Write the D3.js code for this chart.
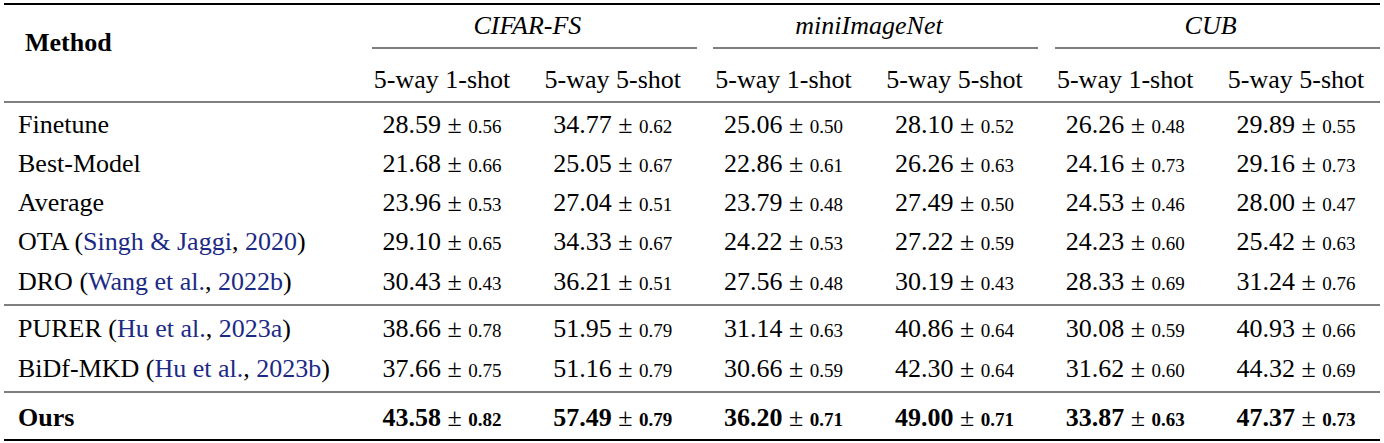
<!DOCTYPE html>
<html><head><meta charset="utf-8">
<script src="https://cdn.jsdelivr.net/npm/d3@7"></script>
<style>body{margin:0;background:#fff}</style>
</head><body><svg id="c" width="1384" height="443"></svg>
<script>
const datasets = ["CIFAR-FS", "miniImageNet", "CUB"];
const settings = ["5-way 1-shot", "5-way 5-shot"];
const methods = ["Finetune", "Best-Model", "Average", "OTA", "DRO", "PURER", "BiDf-MKD", "Ours"];
const citations = ["", "", "", "Singh & Jaggi, 2020", "Wang et al., 2022b", "Hu et al., 2023a", "Hu et al., 2023b", ""];
const means = [
  [28.59, 34.77, 25.06, 28.10, 26.26, 29.89],
  [21.68, 25.05, 22.86, 26.26, 24.16, 29.16],
  [23.96, 27.04, 23.79, 27.49, 24.53, 28.00],
  [29.10, 34.33, 24.22, 27.22, 24.23, 25.42],
  [30.43, 36.21, 27.56, 30.19, 28.33, 31.24],
  [38.66, 51.95, 31.14, 40.86, 30.08, 40.93],
  [37.66, 51.16, 30.66, 42.30, 31.62, 44.32],
  [43.58, 57.49, 36.20, 49.00, 33.87, 47.37]
];
const stds = [
  [0.56, 0.62, 0.50, 0.52, 0.48, 0.55],
  [0.66, 0.67, 0.61, 0.63, 0.73, 0.73],
  [0.53, 0.51, 0.48, 0.50, 0.46, 0.47],
  [0.65, 0.67, 0.53, 0.59, 0.60, 0.63],
  [0.43, 0.51, 0.48, 0.43, 0.69, 0.76],
  [0.78, 0.79, 0.63, 0.64, 0.59, 0.66],
  [0.75, 0.79, 0.59, 0.64, 0.60, 0.69],
  [0.82, 0.79, 0.71, 0.71, 0.63, 0.73]
];

const svg = d3.select("#c");
const F = "'Liberation Serif','Times New Roman',serif";
const colX = d3.scaleLinear().domain([0, 5]).range([442, 1296]);
const rowY = [124, 163, 202, 241, 281, 328, 368, 417];

function rule(x1, x2, y, w) {
  svg.append("line").attr("x1", x1).attr("x2", x2).attr("y1", y).attr("y2", y)
    .attr("stroke", "#000").attr("stroke-width", w);
}
rule(4, 1380, 4, 2.2);
rule(4, 1380, 102, 1.2);
rule(4, 1380, 305, 1.2);
rule(4, 1380, 392, 1.2);
rule(4, 1380, 440, 2.2);
const cmid = [[372, 697], [713, 1038], [1055, 1380]];
cmid.forEach(r => rule(r[0], r[1], 48, 1.2));

function txt(x, y, s, opts = {}) {
  return svg.append("text").attr("x", x).attr("y", y).attr("dy", "0.35em")
    .attr("font-family", F).attr("font-size", opts.size || 26)
    .attr("font-style", opts.italic ? "italic" : null)
    .attr("font-weight", opts.bold ? "bold" : null)
    .attr("text-anchor", opts.anchor || "start").attr("fill", "#000").text(s);
}
txt(25, 42, "Method", {bold: true});
datasets.forEach((d, i) => txt((colX(2 * i) + colX(2 * i + 1)) / 2, 25, d, {italic: true, anchor: "middle"}));
for (let c = 0; c < 6; c++) txt(colX(c), 79, settings[c % 2], {anchor: "middle"});

methods.forEach((m, r) => {
  const t = txt(18, rowY[r], m, {bold: m === "Ours"});
  if (citations[r]) {
    const parts = citations[r].split(/, (?=\d{4})/);
    t.text(null);
    t.append("tspan").text(m + " (");
    t.append("tspan").attr("fill", "#1c2a85").text(parts[0]);
    t.append("tspan").text(", ");
    t.append("tspan").attr("fill", "#1c2a85").text(parts[1]);
    t.append("tspan").text(")");
  }
  for (let c = 0; c < 6; c++) {
    const bold = m === "Ours";
    const g = txt(colX(c), rowY[r], null, {anchor: "middle", bold});
    g.append("tspan").text(means[r][c].toFixed(2) + " ");
    g.append("tspan").attr("font-weight", "normal").text("± ");
    g.append("tspan").attr("font-size", 19).text(stds[r][c].toFixed(2));
  }
});
</script></body></html>
